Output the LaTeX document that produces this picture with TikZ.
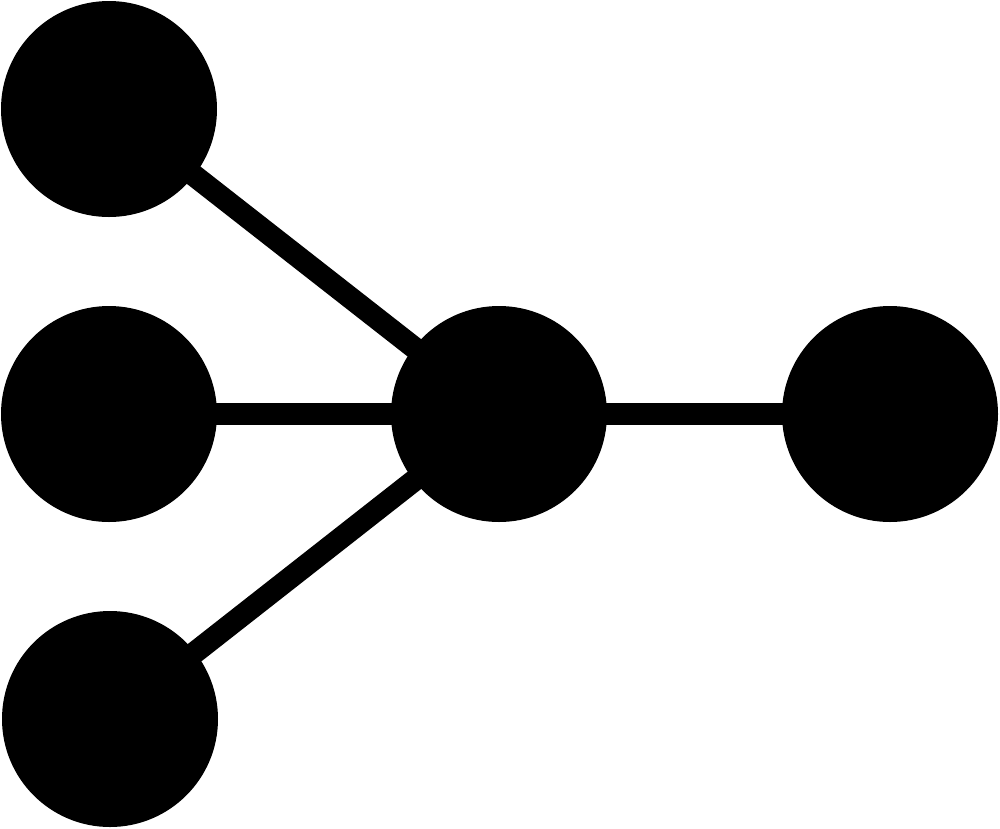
\documentclass[tikz,border=0pt]{standalone}
\begin{document}
\begin{tikzpicture}[x=1pt,y=-1pt,
  dot/.style={circle,fill=black,minimum size=216pt,inner sep=0pt},
  link/.style={draw=black,line width=22pt}]
\useasboundingbox (0,0) rectangle (1000,828);
\node[dot] (tl) at (109,109) {};
\node[dot] (ml) at (109,414) {};
\node[dot] (bl) at (110,719) {};
\node[dot] (c)  at (499,414) {};
\node[dot] (r)  at (890,414) {};
\begin{scope}[on background layer/.style={}]
\draw[link] (tl.center) -- (c.center);
\draw[link] (ml.center) -- (c.center);
\draw[link] (bl.center) -- (c.center);
\draw[link] (c.center) -- (r.center);
\end{scope}
\end{tikzpicture}
\end{document}
